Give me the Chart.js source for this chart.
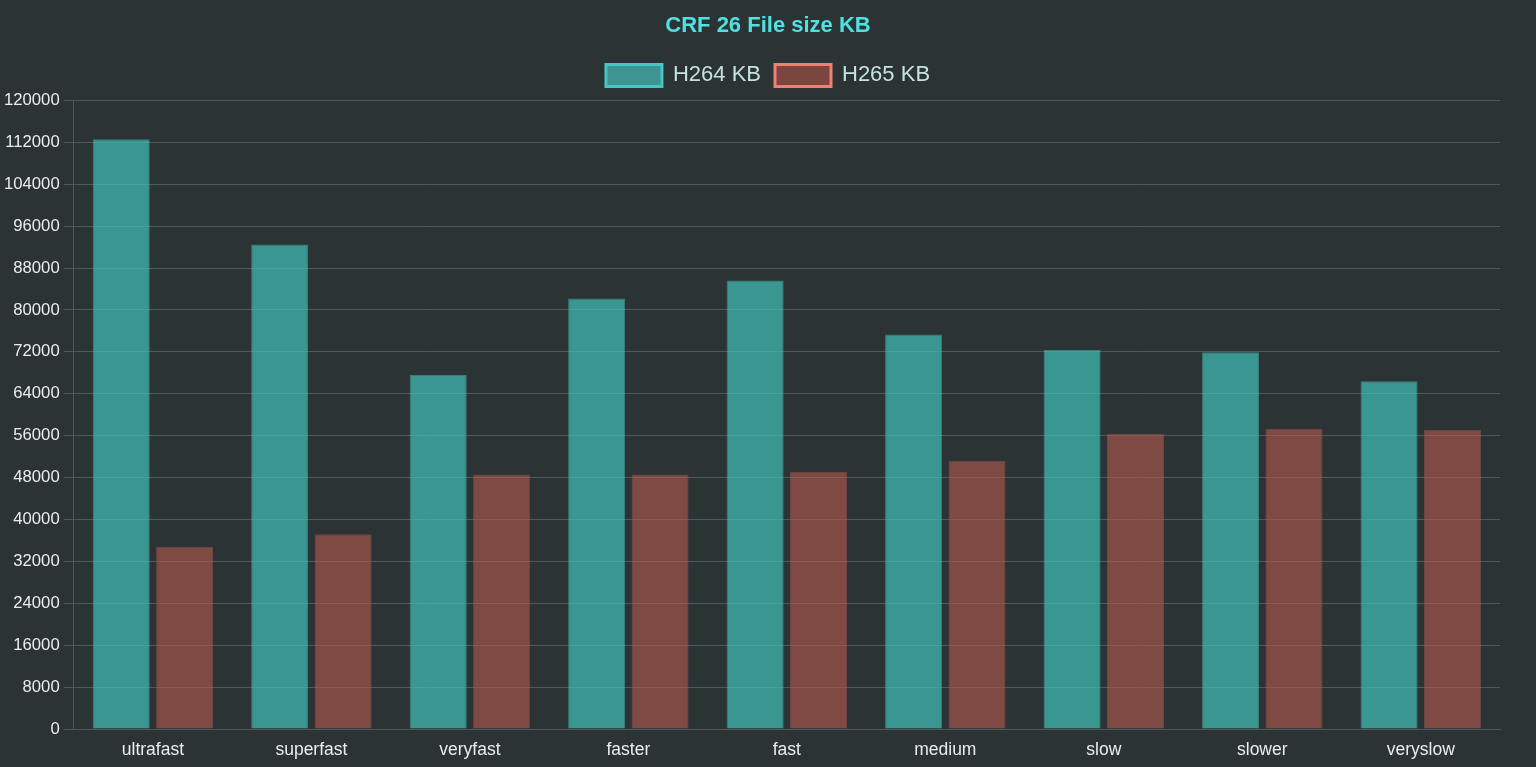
<!DOCTYPE html>
<html>
<head>
<meta charset="utf-8">
<script src="https://cdn.jsdelivr.net/npm/chart.js"></script>
<style>
  html, body { margin: 0; padding: 0; background: #2c3335; }
  #wrap { width: 1536px; height: 767px; }
</style>
</head>
<body>
<div id="wrap"><canvas id="sizeChart"></canvas></div>
<script>
// presets and file sizes (KB)
const presets = ['ultrafast', 'superfast', 'veryfast', 'faster', 'fast', 'medium', 'slow', 'slower', 'veryslow'];
const h264KB = [112600, 92500, 67600, 82200, 85600, 75300, 72400, 71900, 66400];
const h265KB = [34800, 37200, 48600, 48600, 49100, 51200, 56300, 57300, 57100];
const seriesNames = ['H264 KB', 'H265 KB'];

Chart.defaults.font.family = '"Liberation Sans", Arial, sans-serif';

const ctx = document.getElementById('sizeChart').getContext('2d');
const sizeChart = new Chart(ctx, {
    type: 'bar',
    data: {
        labels: presets,
        datasets: [
            {
                label: seriesNames[0],
                data: h264KB,
                backgroundColor: 'rgba(64, 192, 184, 0.7)',
                borderColor: 'rgba(80, 200, 195, 0.5)',
                borderWidth: 1,
            },
            {
                label: seriesNames[1],
                data: h265KB,
                backgroundColor: 'rgba(184, 90, 78, 0.6)',
                borderColor: 'rgba(200, 100, 90, 0.4)',
                borderWidth: 1,
            },
        ],
    },
    options: {
        responsive: true,
        maintainAspectRatio: false,
        animation: false,
        layout: { padding: { left: 0, right: 0, top: 0, bottom: 3 } },
        plugins: {
            title: {
                display: true,
                text: 'CRF 26 File size KB',
                color: '#4fe0e0',
                font: { size: 22, weight: 'bold' },
                padding: { top: 13, bottom: 11 },
            },
            legend: {
                labels: {
                    color: '#c5e2e2',
                    font: { size: 22 },
                    boxWidth: 56,
                    boxHeight: 22,
                    padding: 14,
                    generateLabels: function (chart) {
                        const strokes = ['#45c6c4', '#f08070'];
                        const fills = ['#3d9490', '#7b4540'];
                        return chart.data.datasets.map((ds, i) => ({
                            text: ds.label,
                            fillStyle: fills[i],
                            strokeStyle: strokes[i],
                            lineWidth: 3,
                            fontColor: '#c5e2e2',
                            hidden: !chart.isDatasetVisible(i),
                            datasetIndex: i,
                        }));
                    },
                },
            },
        },
        scales: {
            x: {
                grid: { display: false },
                border: { display: true, color: '#4d5a5c' },
                ticks: { color: '#e8eeee', font: { size: 17.5 } },
            },
            y: {
                beginAtZero: true,
                min: 0,
                max: 120000,
                grid: { color: '#4d5a5c', tickLength: 10 },
                border: { display: true, color: '#4d5a5c' },
                ticks: {
                    stepSize: 8000,
                    color: '#e8eeee',
                    font: { size: 16.7 },
                    padding: 4,
                    callback: value => String(value),
                },
            },
            // empty axes, only used as spacing around the plot
            spacerTop: {
                type: 'category',
                position: 'top',
                display: true,
                grid: { display: false },
                border: { display: false },
                ticks: { display: false },
                afterFit: scale => { scale.height = 4; },
            },
            spacer: {
                type: 'linear',
                position: 'right',
                display: true,
                grid: { display: false },
                border: { display: false },
                ticks: { display: false },
                afterFit: scale => { scale.width = 36; },
            },
        },
    },
});
</script>
</body>
</html>
